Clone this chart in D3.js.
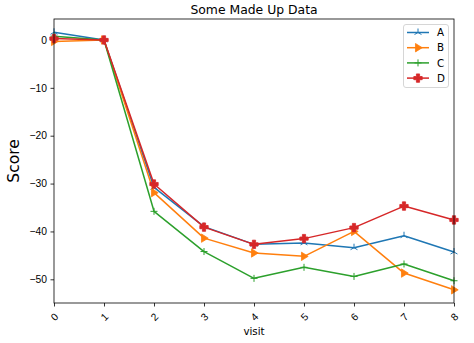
<!DOCTYPE html>
<html><head><meta charset="utf-8">
<script src="https://cdn.jsdelivr.net/npm/d3@7"></script>
<style>body{margin:0;background:#fff}svg{font-family:"DejaVu Sans",sans-serif}</style>
</head><body><svg id="c" width="474" height="343"></svg>
<script>
const visits = [0,1,2,3,4,5,6,7,8];
const seriesNames = ["A","B","C","D"];
const colors = ["#1f77b4","#ff7f0e","#2ca02c","#d62728"];
const valuesA = [1.6, 0, -30.8, -39.0, -42.7, -42.4, -43.4, -40.9, -44.3];
const valuesB = [-0.3, 0, -31.9, -41.4, -44.5, -45.2, -40.0, -48.7, -52.2];
const valuesC = [0.8, 0, -35.8, -44.2, -49.8, -47.5, -49.4, -46.8, -50.3];
const valuesD = [0.3, 0, -30.1, -39.1, -42.7, -41.5, -39.2, -34.7, -37.6];
const yTicks = [0,-10,-20,-30,-40,-50];
const markers = ["tri","tri_right","plus","pfill"];
const allValues = [valuesA, valuesB, valuesC, valuesD];

const svg = d3.select("#c");
const L=54, R=454, T=19, B=303;
const x = d3.scaleLinear().domain([0,8]).range([L,R]);
const y = d3.scaleLinear().domain([4.38,-54.95]).range([T,B]);

// axes
const gx = svg.append("g").attr("transform",`translate(0,${B})`)
  .call(d3.axisBottom(x).tickValues(visits).tickFormat(d3.format("d")).tickSizeOuter(0).tickSize(3.5).tickPadding(2));
gx.select(".domain").remove();
gx.selectAll("text").attr("font-size",10.3).attr("fill","#000")
  .attr("text-anchor","middle").attr("dy",null)
  .attr("transform","translate(0,14) rotate(-45)").attr("y",0).attr("dominant-baseline","central");
const gy = svg.append("g").attr("transform",`translate(${L},0)`)
  .call(d3.axisLeft(y).tickValues(yTicks).tickFormat(d=>d<0?"\u2212"+(-d):d).tickSizeOuter(0).tickSize(3.5).tickPadding(3.5));
gy.select(".domain").remove();
gy.selectAll("text").attr("font-size",10.3).attr("fill","#000");
svg.selectAll(".tick line").attr("stroke","#000").attr("stroke-width",0.8);
svg.selectAll(".tick line").attr("stroke","#000");

// data lines
const line = d3.line().x((d,i)=>x(visits[i])).y(d=>y(d));
function marker(g, type, c){
  if(type==="tri"){
    const r=4;
    g.append("path").attr("d",`M0,0L0,${-r}M0,0L${-r*0.866},${r*0.5}M0,0L${r*0.866},${r*0.5}`)
      .attr("stroke",c).attr("stroke-width",1).attr("fill","none");
  } else if(type==="tri_right"){
    const r=4.2;
    g.append("path").attr("d",`M${r},0L${-r*0.6},${-r}L${-r*0.6},${r}Z`).attr("fill",c).attr("stroke",c).attr("stroke-width",0.8);
  } else if(type==="plus"){
    const r=3.5;
    g.append("path").attr("d",`M${-r},0L${r},0M0,${-r}L0,${r}`).attr("stroke",c).attr("stroke-width",1).attr("fill","none");
  } else {
    const a=4.2,b=1.6;
    g.append("path").attr("d",`M${-b},${-a}H${b}V${-b}H${a}V${b}H${b}V${a}H${-b}V${b}H${-a}V${-b}H${-b}Z`)
      .attr("fill",c).attr("stroke",c).attr("stroke-width",0.8);
  }
}
allValues.forEach((vals,k)=>{
  svg.append("path").datum(vals).attr("d",line).attr("fill","none")
    .attr("stroke",colors[k]).attr("stroke-width",1.5).attr("stroke-linejoin","round");
});
allValues.forEach((vals,k)=>{
  vals.forEach((v,i)=>{
    const g=svg.append("g").attr("transform",`translate(${x(visits[i])},${y(v)})`);
    marker(g,markers[k],colors[k]);
  });
});

// frame
svg.append("rect").attr("x",L).attr("y",T).attr("width",R-L).attr("height",B-T)
  .attr("fill","none").attr("stroke","#000").attr("stroke-width",0.8);

// legend
const lg = svg.append("g");
lg.append("rect").attr("x",403.5).attr("y",24.5).attr("width",45).attr("height",63).attr("rx",2.5)
  .attr("fill","#fff").attr("fill-opacity",0.8).attr("stroke","#ccc").attr("stroke-width",0.8);
seriesNames.forEach((n,k)=>{
  const yy = 32.5 + k*15.2;
  lg.append("line").attr("x1",407).attr("x2",429).attr("y1",yy).attr("y2",yy).attr("stroke",colors[k]).attr("stroke-width",1.5);
  marker(lg.append("g").attr("transform",`translate(418,${yy})`),markers[k],colors[k]);
  lg.append("text").attr("x",437).attr("y",yy).attr("dy","0.36em").attr("font-size",10.3).text(n);
});

// labels
svg.append("text").attr("x",254).attr("y",14).attr("text-anchor","middle").attr("font-size",12.4).text("Some Made Up Data");
svg.append("text").attr("x",254).attr("y",335).attr("text-anchor","middle").attr("font-size",10.3).text("visit");
svg.append("text").attr("transform","translate(19,161) rotate(-90)").attr("text-anchor","middle").attr("font-size",15.5).text("Score");
</script></body></html>
